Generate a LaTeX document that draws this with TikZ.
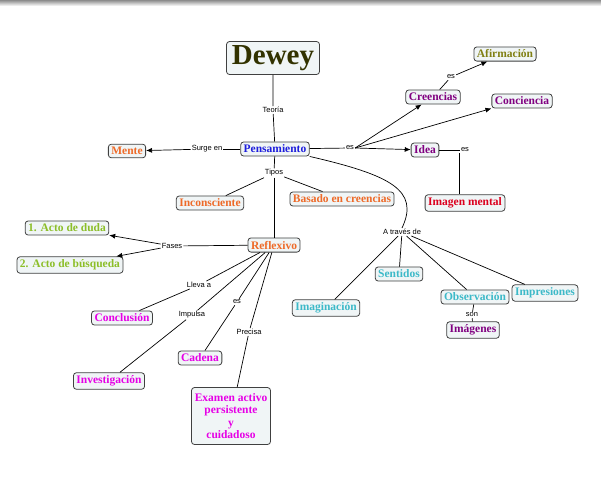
\documentclass[tikz,border=0pt]{standalone}
\usepackage{fontspec}
\setmainfont{Liberation Serif}
\newfontfamily\lblfont{Liberation Sans}
\usetikzlibrary{arrows.meta,shadows}
\definecolor{cor}{RGB}{238,106,40}
\definecolor{cbl}{RGB}{30,30,220}
\definecolor{cpu}{RGB}{128,0,128}
\definecolor{col}{RGB}{128,128,20}
\definecolor{cre}{RGB}{220,0,30}
\definecolor{cgr}{RGB}{140,190,40}
\definecolor{ccy}{RGB}{60,185,200}
\definecolor{cma}{RGB}{230,0,230}
\definecolor{cdw}{RGB}{50,50,0}
\definecolor{cfill}{RGB}{240,245,246}
\tikzset{
 box/.style={draw=black!75,fill=cfill,rounded corners=3pt,line width=0.8pt,font=\rmfamily\bfseries\fontsize{11.5}{12.5}\selectfont,inner sep=3pt,align=center},
 lbl/.style={font=\lblfont\fontsize{7.5}{8}\selectfont,inner sep=1pt,fill=white},
 ln/.style={draw,line width=0.7pt},
 ar/.style={ln,-{Latex[length=6pt,width=5pt]}}
}
\begin{document}
\begin{tikzpicture}[x=1pt,y=-1pt]
\useasboundingbox (0,0) rectangle (601,483);
\shade[top color=black!45,bottom color=white] (0,0) rectangle (601,6);
% nodes
\node[box,text=cdw,font=\rmfamily\bfseries\fontsize{29}{30}\selectfont,minimum width=93pt,minimum height=33pt] (dewey) at (273,58) {Dewey};
\node[box,text=cbl] (pen) at (275,149) {Pensamiento};
\node[box,text=cor] (mente) at (127,151) {Mente};
\node[box,text=cpu] (cre) at (433,97) {Creencias};
\node[box,text=col] (afi) at (505,54) {Afirmación};
\node[box,text=cpu] (con) at (522,101) {Conciencia};
\node[box,text=cpu] (idea) at (425,150) {Idea};
\node[box,text=cre] (img) at (465,203) {Imagen mental};
\node[box,text=cor] (inc) at (210,203) {Inconsciente};
\node[box,text=cor] (bas) at (342,199) {Basado en creencias};
\node[box,text=cor] (ref) at (274,245) {Reflexivo};
\node[box,text=cgr] (duda) at (67,228) {1. Acto de duda};
\node[box,text=cgr] (busq) at (70,265) {2. Acto de búsqueda};
\node[box,text=cma] (concl) at (122,318) {Conclusión};
\node[box,text=cma] (inv) at (109,381) {Investigación};
\node[box,text=cma] (cad) at (200,358) {Cadena};
\node[box,text=cma,minimum width=79pt,minimum height=57pt] (exa) at (231,416) {Examen activo\\persistente\\y\\cuidadoso};
\node[box,text=ccy] (imag) at (326,308) {Imaginación};
\node[box,text=ccy] (sen) at (399,274) {Sentidos};
\node[box,text=ccy] (obs) at (475,297) {Observación};
\node[box,text=ccy] (imp) at (545,293) {Impresiones};
\node[box,text=cpu] (imgs) at (473,330) {Imágenes};
% labels
\node[lbl] (teo) at (273,110) {Teoría};
\node[lbl] (surge) at (207,149) {Surge en};
\node[lbl] (es1) at (350,148) {es};
\node[lbl] (es2) at (451,77) {es};
\node[lbl] (es3) at (465,150) {es};
\node[lbl] (tipos) at (274,173) {Tipos};
\node[lbl] (atr) at (402,232) {A través de};
\node[lbl] (fases) at (172,246) {Fases};
\node[lbl] (lleva) at (199,285) {Lleva a};
\node[lbl] (impu) at (192,315) {Impulsa};
\node[lbl] (es4) at (237,302) {es};
\node[lbl] (prec) at (249,332) {Precisa};
\node[lbl] (son) at (472,315) {son};
% connectors
\draw[ln] (dewey) -- (teo) -- (pen);
\draw[ln] (pen) -- (surge); \draw[ar] (surge) -- (mente);
\draw[ln] (pen) -- (es1);
\draw[ar] (es1.east) -- (cre); \draw[ar] (es1.east) -- (con.south west); \draw[ar] (es1.east) -- (idea);
\draw[ln] (cre) -- (es2); \draw[ar] (es2) -- (afi);
\draw[ln] (idea) -- (es3);
\draw[ln] (es3.south west) -- (img.north -| es3.south west);
\draw[ln] (pen) -- (tipos);
\draw[ln] (tipos) -- (inc); \draw[ln] (tipos) -- (bas); \draw[ln] (tipos) -- (ref);
\draw[ln] (pen.south east) .. controls (390,175) and (420,190) .. (atr.north);
\draw[ln] (atr) -- (imag); \draw[ln] (atr) -- (sen); \draw[ln] (atr) -- (obs); \draw[ln] (atr) -- (imp);
\draw[ln] (obs) -- (son) -- (imgs);
\draw[ln] (ref) -- (fases); \draw[ar] (fases) -- (duda); \draw[ar] (fases) -- (busq);
\draw[ln] (ref) -- (lleva) -- (concl);
\draw[ln] (ref) -- (impu) -- (inv);
\draw[ln] (ref) -- (es4) -- (cad);
\draw[ln] (ref) -- (prec) -- (exa);
\end{tikzpicture}
\end{document}
